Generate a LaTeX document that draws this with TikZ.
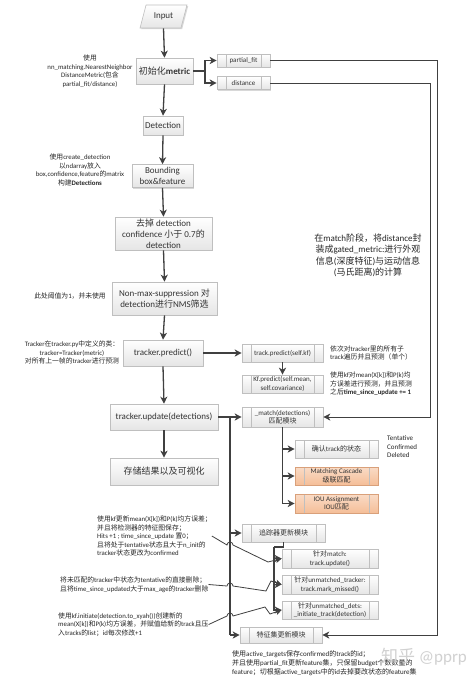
\documentclass[tikz,border=0pt]{standalone}
\usepackage{fontspec}
\setmainfont{Carlito}
\newfontfamily\cjkfam{Noto Sans CJK SC}
\XeTeXinterchartokenstate=1
\newXeTeXintercharclass\CJKcls
\newcount\cjkc
\cjkc="3000 \loop\XeTeXcharclass\cjkc=\CJKcls\relax\ifnum\cjkc<"303F \advance\cjkc by 1 \repeat
\cjkc="4E00 \loop\XeTeXcharclass\cjkc=\CJKcls\relax\ifnum\cjkc<"9FFF \advance\cjkc by 1 \repeat
\cjkc="FF00 \loop\XeTeXcharclass\cjkc=\CJKcls\relax\ifnum\cjkc<"FFEF \advance\cjkc by 1 \repeat
\XeTeXinterchartoks 0 \CJKcls = {\cjkfam}
\XeTeXinterchartoks 4095 \CJKcls = {\cjkfam}
\XeTeXinterchartoks \CJKcls 0 = {\rmfamily}
\XeTeXinterchartoks \CJKcls 4095 = {\rmfamily}
\usetikzlibrary{arrows.meta,shadows,shapes.geometric}
\definecolor{bord}{HTML}{BFBFBF}
\definecolor{ln}{HTML}{404040}
\definecolor{orfill}{HTML}{F5BE98}
\definecolor{orbord}{HTML}{D9A07A}
\begin{document}
\begin{tikzpicture}[x=1pt,y=-1pt,
  base/.style={draw=bord, line width=0.6pt, top color=white, bottom color=black!10,
    drop shadow={shadow xshift=1.2pt,shadow yshift=-1.2pt,opacity=0.3},
    align=center, inner sep=0pt, text=black!80},
  box/.style={base, font=\fontsize{9}{11}\selectfont},
  proc/.style={base, font=\fontsize{7}{8.5}\selectfont,
    path picture={\draw[bord, line width=0.6pt]
      ([xshift=9pt]path picture bounding box.north west) -- ([xshift=9pt]path picture bounding box.south west)
      ([xshift=-9pt]path picture bounding box.north east) -- ([xshift=-9pt]path picture bounding box.south east);}},
  orange/.style={top color=orfill!55, bottom color=orfill, draw=orbord},
  note/.style={font=\fontsize{6.8}{8.5}\selectfont, text=black!85, inner sep=0pt},
  arr/.style={draw=ln, line width=1.3pt, -{Stealth[length=7pt,width=7pt,inset=2pt]}},
  plain/.style={draw=ln, line width=1.1pt},
  call/.style={draw=ln, line width=0.8pt, -{Stealth[length=6pt,width=6pt,inset=1.5pt]}},
]
\fill[white] (0,0) rectangle (474,678);
\useasboundingbox (0,0) rectangle (474,678);

% main column
\node[box, shape=trapezium, trapezium left angle=65, trapezium right angle=115,
  trapezium stretches=true, minimum width=47pt, minimum height=23pt] (input) at (163.5,16.5) {Input};
\node[box, minimum width=57pt, minimum height=26pt] (metric) at (164.5,71) {初始化\textbf{metric}};
\node[box, minimum width=40pt, minimum height=19pt] (detection) at (163,125.5) {Detection};
\node[box, minimum width=61pt, minimum height=23pt] (bbox) at (162.5,176) {Bounding\\box\&feature};
\node[box, minimum width=97pt, minimum height=33pt] (conf) at (163.5,233.5) {去掉 detection\\confidence 小于 0.7的\\detection};
\node[box, minimum width=105pt, minimum height=33pt] (nms) at (164.5,298.5) {Non-max-suppression 对\\detection进行NMS筛选};
\node[box, minimum width=80pt, minimum height=26pt] (predict) at (163,353) {tracker.predict()};
\node[box, minimum width=108pt, minimum height=26pt] (update) at (164,417) {tracker.update(detections)};
\node[box, minimum width=108pt, minimum height=27pt] (store) at (164,471.5) {存储结果以及可视化};

% right column
\node[proc, minimum width=53pt, minimum height=13pt] (pfit) at (243.5,60.5) {partial\_fit};
\node[proc, minimum width=53pt, minimum height=13pt] (dist) at (243.5,83) {distance};
\node[proc, minimum width=81pt, minimum height=18pt] (tpred) at (282.5,353) {track.predict(self.kf)};
\node[proc, minimum width=81pt, minimum height=18pt] (kfpred) at (282.5,384) {Kf.predict(self.mean,\\self.covariance)};
\node[proc, minimum width=81pt, minimum height=20pt] (match) at (282.5,417) {\_match(detections)\\匹配模块};
\node[proc, minimum width=83pt, minimum height=18pt] (confirm) at (336.5,449) {确认track的状态};
\node[proc, orange, minimum width=83pt, minimum height=18pt] (cascade) at (336.5,476) {Matching Cascade\\级联匹配};
\node[proc, orange, minimum width=83pt, minimum height=19pt] (iou) at (336.5,503.5) {IOU Assignment\\IOU匹配};
\node[proc, minimum width=83pt, minimum height=18pt] (tupd) at (283.5,533) {追踪器更新模块};
\node[proc, minimum width=96pt, minimum height=19pt] (mupd) at (330,558.5) {针对match:\\track.update()};
\node[proc, minimum width=96pt, minimum height=19pt] (mmiss) at (330,584.5) {针对unmatched\_tracker:\\track.mark\_missed()};
\node[proc, minimum width=96pt, minimum height=18pt] (minit) at (330,610) {针对unmatched\_dets:\\\_initiate\_track(detection)};
\node[proc, minimum width=82pt, minimum height=16pt] (feat) at (281,635) {特征集更新模块};

% annotations
\node[note, align=center] (ann1) at (90,71) {使用\\nn\_matching.NearestNeighbor\\DistanceMetric(包含\\partial\_fit/distance)};
\node[note, align=center] (ann2) at (80,170) {使用create\_detection\\以ndarray放入\\box,confidence,feature的matrix\\构建\textbf{Detections}};
\node[note, align=center] (ann3) at (70,296) {此处阈值为1，并未使用};
\node[note, align=center] (ann4) at (72,352.5) {Tracker在tracker.py中定义的类：\\tracker=Tracker(metric)\\对所有上一帧的tracker进行预测};
\node[note, align=left, anchor=west] (ann5) at (330,353) {依次对tracker里的所有子\\track遍历并且预测（单个）};
\node[note, align=left, anchor=west] (ann6) at (330,384) {使用kf对mean(X[k])和P(k)均\\方误差进行预测，并且预测\\之后\textbf{time\_since\_update += 1}};
\node[note, align=left, anchor=west, font=\fontsize{7}{8.5}\selectfont] (ann7) at (387,447) {Tentative\\Confirmed\\Deleted};
\node[note, align=center, font=\fontsize{9}{11.5}\selectfont] (gated) at (368,255.5) {在match阶段，将distance封\\装成gated\_metric:进行外观\\信息(深度特征)与运动信息\\(马氏距离)的计算};
\node[note, align=left, anchor=west] (ann9) at (97,536) {使用kf更新mean(X[k])和P(k)均方误差；\\并且将检测器的特征图保存；\\Hits +1 ; time\_since\_update 置0；\\且将处于tentative状态且大于n\_init的\\tracker状态更改为confirmed};
\node[note, align=left, anchor=west] (ann10) at (60,584.5) {将未匹配的tracker中状态为tentative的直接删除；\\且将time\_since\_updated大于max\_age的tracker删除};
\node[note, align=left, anchor=west] (ann11) at (58,624.5) {使用kf.initiate(detection.to\_xyah())创建新的\\mean(X[k])和P(k)均方误差，并赋值给新的track且压\\入tracks的list；id每次修改+1};
\node[note, align=left, anchor=north west, font=\fontsize{7}{9}\selectfont] (ann12) at (232,650) {使用active\_targets保存confirmed的track的id；\\并且使用partial\_fit更新feature集，只保留budget个数数量的\\feature；切根据active\_targets中的id去掉要改状态的feature集};
\node[font=\fontsize{17}{17}\selectfont, text=black!18] (wm) at (424,657) {知乎 @pprp};

% main connectors
\draw[arr] (input.south) -- (metric.north);
\draw[arr] (metric.south) -- (detection.north);
\draw[arr] (detection.south) -- (bbox.north);
\draw[arr] (bbox.south) -- (conf.north);
\draw[arr] (conf.south) -- (nms.north);
\draw[arr] (nms.south) -- (predict.north);
\draw[arr] (predict.south) -- (update.north);
\draw[arr] (update.south) -- (store.north);

\coordinate (mbr) at (205,71);
\draw[plain] (metric.east) -- (mbr);
\draw[arr] (mbr) |- (pfit.west);
\draw[arr] (mbr) |- (dist.west);

\coordinate (rx1) at (437,0);
\coordinate (rx2) at (430,0);
\draw[arr, line width=1pt] (pfit.east) -- (pfit.east -| rx1) -- (feat.east -| rx1) -- (feat.east);
\draw[arr, line width=1pt] (dist.east) -- (dist.east -| rx2) -- (match.east -| rx2) -- (match.east);

\draw[arr] (predict.east) -- (tpred.west);
\draw[arr] (tpred.south) -- (kfpred.north);
\draw[arr] (update.east) -- (match.west);

\coordinate (lx) at (230,0);
\draw[plain] (update.east -| lx) -- (feat.west -| lx);
\draw[arr] (feat.west -| lx) -- (feat.west);
\draw[arr] (tupd.west -| lx) -- (tupd.west);

\draw[arr] (match.south) |- (confirm.west);
\draw[arr] (match.south) |- (cascade.west);
\draw[arr] (match.south) |- (iou.west);

\coordinate (tb) at (274,547);
\draw[plain] (tupd.south) |- (tb);
\draw[arr] (tb) |- (mupd.west);
\draw[arr] (tb) |- (mmiss.west);
\draw[arr] (tb) |- (minit.west);

% callouts with line hops
\draw[call] (ann9.east) -- (227,545) arc[start angle=180,end angle=360,radius=3] -- (268,562) -- (mupd.west);
\draw[call] (ann10.east) -- (227,586) arc[start angle=180,end angle=360,radius=3] -- (266,591) -- (271,581) -- (mmiss.west);
\draw[call] (ann11.east) -- (227,616) arc[start angle=180,end angle=360,radius=3] -- (265,607) -- (270,614) -- (minit.west);
\end{tikzpicture}
\end{document}
